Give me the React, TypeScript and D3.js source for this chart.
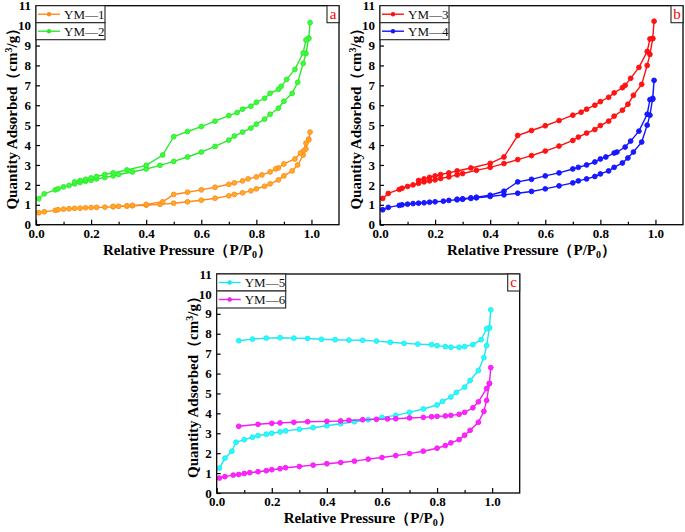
import React, { useEffect, useRef } from "react";
import * as d3 from "d3";

// YM-1 (adsorption up, desorption down)
const ym1P = [0.01, 0.03, 0.07, 0.08, 0.1, 0.12, 0.14, 0.16, 0.18, 0.2, 0.22, 0.25, 0.28, 0.3, 0.33, 0.35, 0.4, 0.45, 0.5, 0.55, 0.6, 0.65, 0.7, 0.72, 0.75, 0.78, 0.8, 0.83, 0.85, 0.88, 0.9, 0.93, 0.95, 0.97, 0.98, 0.99, 0.995,
  0.99, 0.98, 0.97, 0.96, 0.94, 0.9, 0.88, 0.87, 0.85, 0.82, 0.8, 0.77, 0.75, 0.72, 0.7, 0.65, 0.6, 0.55, 0.5, 0.46, 0.4, 0.35, 0.33, 0.28];
const ym1Q = [0.6, 0.65, 0.72, 0.75, 0.78, 0.8, 0.82, 0.83, 0.85, 0.86, 0.87, 0.88, 0.9, 0.92, 0.93, 0.95, 0.98, 1.02, 1.08, 1.15, 1.23, 1.33, 1.45, 1.52, 1.6, 1.7, 1.8, 1.93, 2.05, 2.25, 2.45, 2.7, 3.0, 3.5, 3.8, 4.3, 4.65,
  4.25, 4.1, 3.7, 3.6, 3.3, 3.05, 2.85, 2.8, 2.65, 2.5, 2.4, 2.3, 2.2, 2.1, 2.03, 1.88, 1.75, 1.63, 1.52, 1.15, 1.02, 0.97, 0.95, 0.92];

// YM-2
const ym2P = [0.01, 0.03, 0.07, 0.08, 0.1, 0.12, 0.14, 0.16, 0.18, 0.2, 0.22, 0.25, 0.28, 0.3, 0.35, 0.4, 0.45, 0.5, 0.55, 0.6, 0.65, 0.7, 0.72, 0.75, 0.78, 0.8, 0.83, 0.85, 0.88, 0.9, 0.93, 0.95, 0.97, 0.98, 0.99, 0.995,
  0.99, 0.98, 0.97, 0.94, 0.91, 0.89, 0.88, 0.85, 0.83, 0.8, 0.78, 0.75, 0.73, 0.7, 0.65, 0.6, 0.55, 0.5, 0.46, 0.4, 0.33, 0.28, 0.25, 0.22, 0.2, 0.18, 0.16, 0.14];
const ym2Q = [1.3, 1.55, 1.75, 1.8, 1.9, 1.97, 2.05, 2.12, 2.18, 2.23, 2.3, 2.37, 2.45, 2.52, 2.65, 2.8, 2.98, 3.18, 3.4, 3.65, 3.93, 4.25, 4.45, 4.65, 4.85, 5.05, 5.3, 5.55, 5.85, 6.2, 6.6, 7.15, 8.1, 8.6, 9.37, 10.15,
  9.35, 9.28, 8.63, 7.8, 7.3, 6.95, 6.8, 6.6, 6.35, 6.15, 5.95, 5.8, 5.63, 5.48, 5.2, 4.93, 4.68, 4.42, 3.5, 2.98, 2.75, 2.6, 2.52, 2.42, 2.35, 2.28, 2.22, 2.15];

// YM-3
const ym3P = [0.01, 0.03, 0.07, 0.08, 0.1, 0.12, 0.14, 0.16, 0.18, 0.2, 0.22, 0.25, 0.28, 0.3, 0.35, 0.4, 0.45, 0.5, 0.55, 0.6, 0.65, 0.7, 0.72, 0.75, 0.78, 0.8, 0.83, 0.85, 0.88, 0.9, 0.92, 0.95, 0.97, 0.98, 0.99, 0.995,
  0.99, 0.98, 0.97, 0.94, 0.91, 0.89, 0.88, 0.85, 0.83, 0.8, 0.78, 0.75, 0.73, 0.7, 0.65, 0.6, 0.55, 0.5, 0.45, 0.4, 0.33, 0.28, 0.25, 0.22, 0.2, 0.18, 0.16, 0.14];
const ym3Q = [1.32, 1.57, 1.77, 1.83, 1.92, 2.0, 2.08, 2.15, 2.2, 2.25, 2.32, 2.4, 2.5, 2.57, 2.73, 2.88, 3.07, 3.27, 3.47, 3.7, 3.95, 4.23, 4.4, 4.6, 4.78, 4.98, 5.2, 5.45, 5.75, 6.05, 6.5, 7.05, 8.0, 8.55, 9.35, 10.22,
  9.35, 9.33, 8.7, 7.9, 7.35, 7.0, 6.88, 6.62, 6.4, 6.18, 6.0, 5.8, 5.65, 5.5, 5.23, 4.97, 4.73, 4.48, 3.4, 3.08, 2.85, 2.7, 2.6, 2.52, 2.45, 2.38, 2.3, 2.22];

// YM-4
const ym4P = [0.01, 0.03, 0.07, 0.08, 0.1, 0.12, 0.14, 0.16, 0.18, 0.2, 0.23, 0.25, 0.28, 0.3, 0.33, 0.35, 0.4, 0.45, 0.5, 0.55, 0.6, 0.65, 0.7, 0.72, 0.75, 0.78, 0.8, 0.83, 0.85, 0.88, 0.9, 0.92, 0.95, 0.97, 0.98, 0.99, 0.995,
  0.99, 0.98, 0.97, 0.94, 0.91, 0.89, 0.86, 0.85, 0.82, 0.8, 0.78, 0.75, 0.72, 0.7, 0.65, 0.6, 0.55, 0.5, 0.45, 0.4, 0.35, 0.33, 0.3, 0.28];
const ym4Q = [0.75, 0.87, 0.97, 1.0, 1.03, 1.06, 1.08, 1.1, 1.13, 1.15, 1.18, 1.22, 1.25, 1.28, 1.32, 1.35, 1.42, 1.5, 1.58, 1.67, 1.8, 1.95, 2.1, 2.2, 2.3, 2.42, 2.55, 2.7, 2.88, 3.1, 3.35, 3.65, 4.15, 5.0, 5.5, 6.35, 7.25,
  6.3, 6.28, 5.55, 4.7, 4.2, 3.9, 3.65, 3.6, 3.4, 3.3, 3.15, 3.0, 2.88, 2.8, 2.6, 2.45, 2.28, 2.15, 1.68, 1.48, 1.38, 1.35, 1.3, 1.28];

// YM-5
const ym5P = [0.01, 0.03, 0.055, 0.07, 0.1, 0.13, 0.15, 0.18, 0.2, 0.23, 0.25, 0.3, 0.35, 0.4, 0.45, 0.5, 0.55, 0.6, 0.65, 0.7, 0.75, 0.8, 0.82, 0.85, 0.87, 0.9, 0.92, 0.95, 0.97, 0.98, 0.99, 0.995,
  0.99, 0.98, 0.96, 0.93, 0.9, 0.88, 0.85, 0.83, 0.8, 0.78, 0.73, 0.68, 0.63, 0.58, 0.53, 0.48, 0.43, 0.38, 0.33, 0.28, 0.23, 0.18, 0.13, 0.08];
const ym5Q = [1.25, 1.75, 2.1, 2.55, 2.68, 2.8, 2.88, 2.95, 3.0, 3.07, 3.12, 3.2, 3.28, 3.38, 3.48, 3.58, 3.68, 3.8, 3.9, 4.05, 4.22, 4.42, 4.6, 4.82, 5.05, 5.32, 5.65, 6.15, 6.8, 7.4, 8.3, 9.2,
  8.3, 8.25, 7.7, 7.45, 7.35, 7.32, 7.32, 7.35, 7.4, 7.45, 7.48, 7.52, 7.57, 7.63, 7.67, 7.68, 7.7, 7.72, 7.76, 7.78, 7.8, 7.78, 7.73, 7.65];

// YM-6
const ym6P = [0.01, 0.03, 0.06, 0.08, 0.1, 0.12, 0.15, 0.18, 0.2, 0.23, 0.25, 0.3, 0.35, 0.4, 0.45, 0.5, 0.55, 0.6, 0.65, 0.7, 0.75, 0.8, 0.83, 0.85, 0.88, 0.9, 0.92, 0.95, 0.97, 0.98, 0.99, 0.995,
  0.99, 0.98, 0.95, 0.93, 0.9, 0.88, 0.85, 0.83, 0.8, 0.78, 0.75, 0.7, 0.65, 0.62, 0.58, 0.53, 0.48, 0.45, 0.4, 0.33, 0.28, 0.23, 0.2, 0.15, 0.08];
const ym6Q = [0.75, 0.82, 0.9, 0.93, 0.98, 1.02, 1.07, 1.12, 1.17, 1.22, 1.27, 1.33, 1.4, 1.47, 1.53, 1.6, 1.7, 1.78, 1.88, 1.98, 2.1, 2.25, 2.38, 2.52, 2.68, 2.9, 3.15, 3.55, 4.1, 4.65, 5.5, 6.3,
  5.5, 5.25, 4.58, 4.28, 4.05, 3.95, 3.9, 3.87, 3.85, 3.83, 3.8, 3.77, 3.73, 3.72, 3.7, 3.68, 3.65, 3.62, 3.6, 3.58, 3.55, 3.52, 3.5, 3.45, 3.35];

const xTicks = [0, 0.2, 0.4, 0.6, 0.8, 1.0];
const xMinorTicks = [0.1, 0.3, 0.5, 0.7, 0.9];
const yTicks = [0, 1, 2, 3, 4, 5, 6, 7, 8, 9, 10, 11];

const panels = [
  { tag: "a", x0: 36, y0: 5.7, series: [
    { name: "YM\u20141", color: "#ff8a1c", p: ym1P, q: ym1Q },
    { name: "YM\u20142", color: "#2ee82e", p: ym2P, q: ym2Q },
  ] },
  { tag: "b", x0: 380, y0: 5.7, series: [
    { name: "YM\u20143", color: "#ff1010", p: ym3P, q: ym3Q },
    { name: "YM\u20144", color: "#1414ff", p: ym4P, q: ym4Q },
  ] },
  { tag: "c", x0: 216.7, y0: 274, series: [
    { name: "YM\u20145", color: "#1ee6f0", p: ym5P, q: ym5Q },
    { name: "YM\u20146", color: "#f01cf0", p: ym6P, q: ym6Q },
  ] },
];

const FONT = "Liberation Serif, Times New Roman, serif";

const App: React.FC = () => {
  const ref = useRef<SVGSVGElement>(null);

  useEffect(() => {
    const svg = d3.select(ref.current);
    svg.selectAll("*").remove();

    const w = 303;
    const h = 219;

    panels.forEach((panel) => {
      const g = svg.append("g").attr("transform", `translate(${panel.x0},${panel.y0})`);
      const x = d3.scaleLinear().domain([0, 1.1]).range([0, w]);
      const y = d3.scaleLinear().domain([0, 11]).range([h, 0]);

      // ticks (inward)
      g.append("g")
        .attr("transform", `translate(0,${h})`)
        .call(d3.axisBottom(x).tickValues(xTicks).tickSize(-5).tickPadding(4).tickFormat(d3.format(".1f") as any))
        .call((a: any) => a.select(".domain").remove());
      g.append("g")
        .attr("transform", `translate(0,${h})`)
        .call(d3.axisBottom(x).tickValues(xMinorTicks).tickSize(-3).tickFormat(() => ""))
        .call((a: any) => a.select(".domain").remove());
      g.append("g")
        .call(d3.axisLeft(y).tickValues(yTicks).tickSize(-4).tickPadding(5).tickFormat(d3.format("d") as any))
        .call((a: any) => a.select(".domain").remove());

      g.selectAll(".tick text")
        .attr("font-family", FONT)
        .attr("font-weight", "bold")
        .attr("font-size", 13)
        .attr("fill", "#000");
      g.selectAll(".tick line").attr("stroke", "#000").attr("stroke-width", 1.2);

      // series
      panel.series.forEach((s) => {
        const pts = s.p.map((p, i) => [p, s.q[i]] as [number, number]);
        const line = d3.line<[number, number]>().x((d) => x(d[0])).y((d) => y(d[1]));
        g.append("path")
          .attr("d", line(pts))
          .attr("fill", "none")
          .attr("stroke", s.color)
          .attr("stroke-width", 1.4);
        g.append("g")
          .selectAll("circle")
          .data(pts)
          .join("circle")
          .attr("cx", (d) => x(d[0]))
          .attr("cy", (d) => y(d[1]))
          .attr("r", 2.4)
          .attr("fill", d3.color(s.color)!.brighter(0.6).formatHex())
          .attr("stroke", s.color)
          .attr("stroke-width", 0.9);
      });

      // frame
      g.append("rect")
        .attr("width", w)
        .attr("height", h)
        .attr("fill", "none")
        .attr("stroke", "#000")
        .attr("stroke-width", 1.3);

      // legend
      const lw = 69;
      const lh = 17;
      panel.series.forEach((s, i) => {
        const ly = i * lh;
        g.append("rect")
          .attr("x", 0)
          .attr("y", ly)
          .attr("width", lw)
          .attr("height", lh)
          .attr("fill", "#fff")
          .attr("stroke", "#222")
          .attr("stroke-width", 1.1);
        g.append("line")
          .attr("x1", 2)
          .attr("x2", 24)
          .attr("y1", ly + lh / 2)
          .attr("y2", ly + lh / 2)
          .attr("stroke", s.color)
          .attr("stroke-width", 1.4);
        g.append("circle")
          .attr("cx", 13)
          .attr("cy", ly + lh / 2)
          .attr("r", 2.2)
          .attr("fill", s.color);
        g.append("text")
          .attr("x", 28)
          .attr("y", ly + lh / 2 + 4.5)
          .attr("font-family", FONT)
          .attr("font-size", 13)
          .attr("fill", "#111")
          .text(s.name);
      });

      // panel tag
      g.append("rect")
        .attr("x", w - 12)
        .attr("y", 0)
        .attr("width", 12)
        .attr("height", 17)
        .attr("fill", "#fff")
        .attr("stroke", "#222")
        .attr("stroke-width", 1.1);
      g.append("text")
        .attr("x", w - 6)
        .attr("y", 13)
        .attr("text-anchor", "middle")
        .attr("font-family", FONT)
        .attr("font-size", 15)
        .attr("fill", "#ff0000")
        .text(panel.tag);

      // axis titles
      const xt = g.append("text")
        .attr("x", w / 2)
        .attr("y", h + 30)
        .attr("text-anchor", "middle")
        .attr("font-family", FONT)
        .attr("font-weight", "bold")
        .attr("font-size", 15)
        .attr("fill", "#000");
      xt.append("tspan").text("Relative Pressure\uff08P/P");
      xt.append("tspan").attr("font-size", 10).attr("dy", 3).text("0");
      xt.append("tspan").attr("dy", -3).text("\uff09");

      const yt = g.append("text")
        .attr("transform", `translate(-19,${h / 2}) rotate(-90)`)
        .attr("text-anchor", "middle")
        .attr("font-family", FONT)
        .attr("font-weight", "bold")
        .attr("font-size", 15)
        .attr("fill", "#000");
      yt.append("tspan").text("Quantity Adsorbed\uff08cm");
      yt.append("tspan").attr("font-size", 10).attr("dy", -5).text("3");
      yt.append("tspan").attr("dy", 5).text("/g\uff09");
    });
  }, []);

  return (
    <svg
      ref={ref}
      width={685}
      height={532}
      style={{ position: "absolute", left: 0, top: 0, background: "#fff" }}
    />
  );
};

export default App;
